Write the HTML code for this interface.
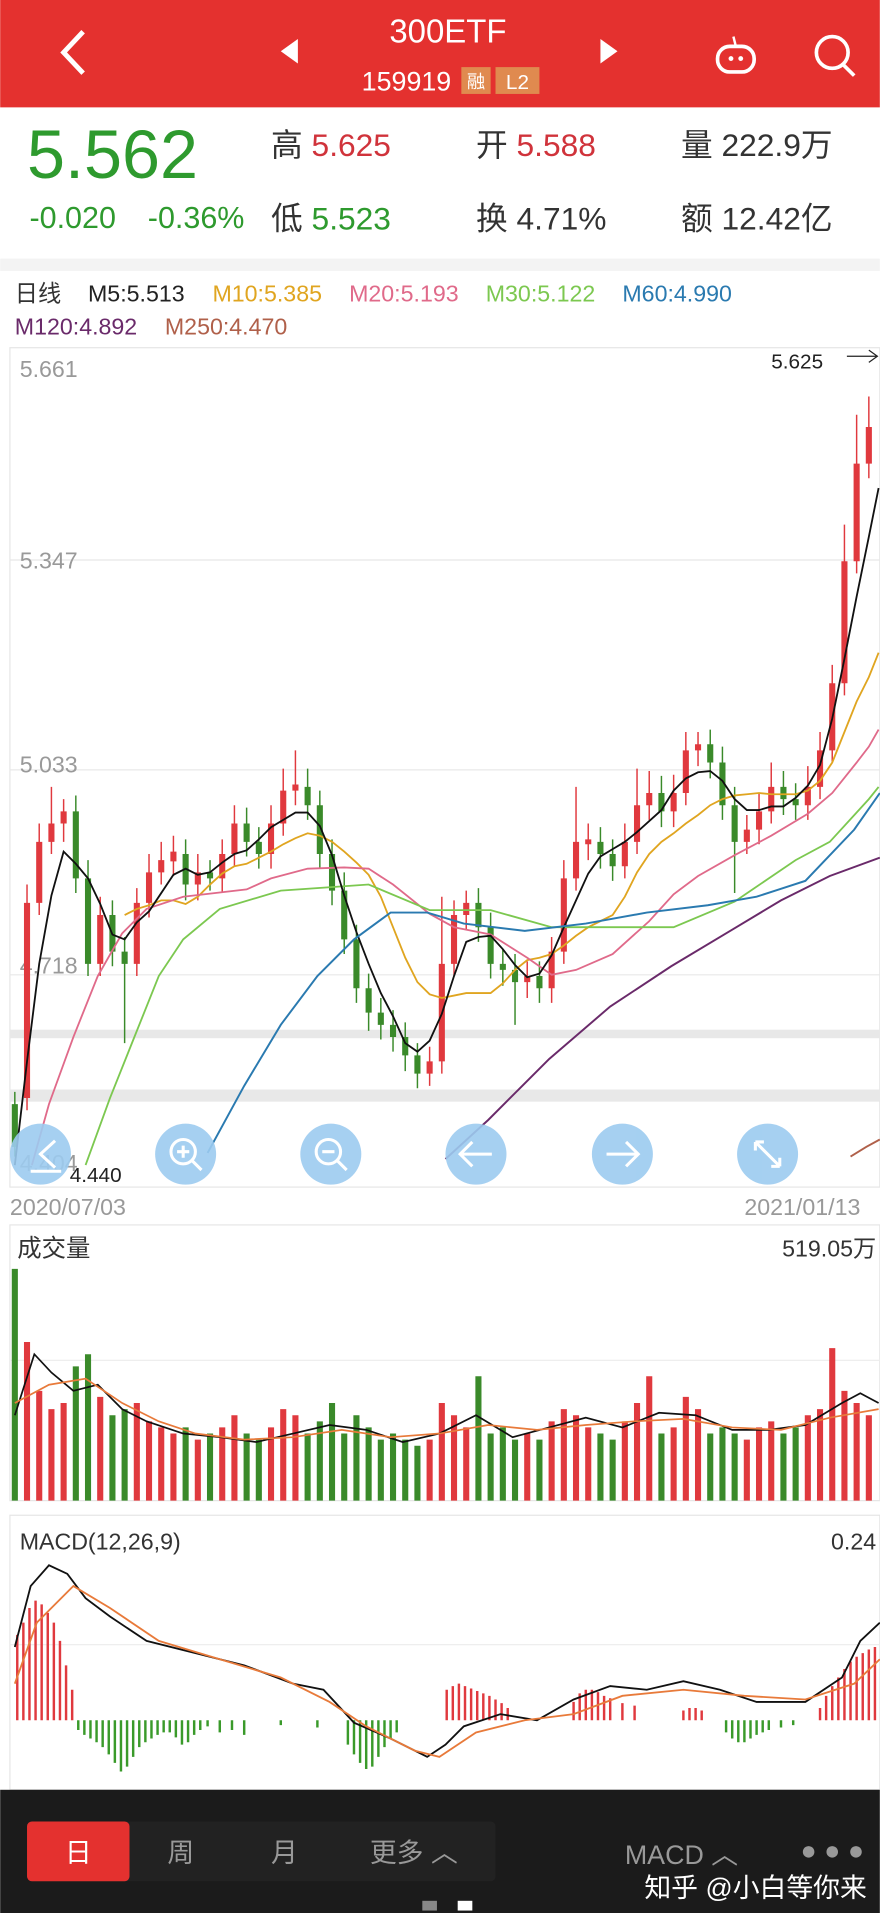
<!DOCTYPE html>
<html><head><meta charset="utf-8"><style>
html,body{margin:0;padding:0;background:#fff}
svg{display:block}
text{font-family:"Liberation Sans","Noto Sans CJK SC",sans-serif}
</style></head><body>
<svg width="880" height="1913" viewBox="0 0 721 1568" xmlns="http://www.w3.org/2000/svg">
<rect x="0" y="0" width="721" height="88" fill="#e4312f"/>
<path d="M68 26 L52 43 L68 60" stroke="#fff" stroke-width="4" fill="none"/>
<path d="M244 32 L230 42 L244 52Z" fill="#fff"/>
<path d="M492 32 L506 42 L492 52Z" fill="#fff"/>
<text x="367" y="35" fill="#fff" font-size="27" text-anchor="middle">300ETF</text>
<text x="333" y="74" fill="#fff" font-size="22" text-anchor="middle">159919</text>
<rect x="378" y="55" width="24" height="22" fill="#e08a4f"/><text x="390" y="72" fill="#fff" font-size="15" text-anchor="middle">融</text>
<rect x="406" y="55" width="36" height="22" fill="#e08a4f"/><text x="424" y="73" fill="#fff" font-size="17" text-anchor="middle">L2</text>
<rect x="588" y="38" width="30" height="21" rx="10" stroke="#fff" stroke-width="3" fill="none"/><circle cx="599" cy="48" r="2" fill="#fff"/><circle cx="607" cy="48" r="2" fill="#fff"/><path d="M603 38 L601 30" stroke="#fff" stroke-width="2"/>
<circle cx="682" cy="43" r="13" stroke="#fff" stroke-width="3" fill="none"/><path d="M691 53 L700 62" stroke="#fff" stroke-width="3"/>
<text x="22" y="146" fill="#2e9a2e" font-size="56">5.562</text>
<text x="24" y="187" fill="#2e9a2e" font-size="25">-0.020</text>
<text x="121" y="187" fill="#2e9a2e" font-size="25">-0.36%</text>
<text x="222" y="128" fill="#333" font-size="26">高 <tspan fill="#d0333b">5.625</tspan></text>
<text x="222" y="188" fill="#333" font-size="26">低 <tspan fill="#2e9a2e">5.523</tspan></text>
<text x="390" y="128" fill="#333" font-size="26">开 <tspan fill="#d0333b">5.588</tspan></text>
<text x="390" y="188" fill="#333" font-size="26">换 4.71%</text>
<text x="558" y="128" fill="#333" font-size="26">量 222.9万</text>
<text x="558" y="188" fill="#333" font-size="26">额 12.42亿</text>
<rect x="0" y="212" width="721" height="10" fill="#f3f3f3"/>
<g font-size="19">
<text x="12" y="247" fill="#333">日线</text><text x="72" y="247" fill="#222">M5:5.513</text>
<text x="174" y="247" fill="#e0a520">M10:5.385</text><text x="286" y="247" fill="#e06a8a">M20:5.193</text>
<text x="398" y="247" fill="#7cc850">M30:5.122</text><text x="510" y="247" fill="#2a7ab0">M60:4.990</text>
<text x="12" y="274" fill="#6a2a6a">M120:4.892</text><text x="135" y="274" fill="#b0604a">M250:4.470</text>
</g>
<rect x="8" y="285" width="713" height="688" fill="none" stroke="#e6e6e6"/>
<g stroke="#e8e8e8"><line x1="8" y1="459" x2="721" y2="459"/><line x1="8" y1="631" x2="721" y2="631"/><line x1="8" y1="799" x2="721" y2="799"/></g>
<rect x="8" y="844" width="713" height="7" fill="#e8e8e8"/><rect x="8" y="893" width="713" height="10" fill="#e8e8e8"/>
<g fill="#999" font-size="19"><text x="16" y="309">5.661</text><text x="16" y="466">5.347</text><text x="16" y="633">5.033</text><text x="16" y="798">4.718</text><text x="16" y="960">4.404</text></g>
<text x="632" y="302" font-size="17" fill="#222">5.625</text><path d="M694 292 L719 292 M712 287 L719 292 L712 297" stroke="#222" fill="none"/>
<text x="57" y="969" font-size="17" fill="#222">4.440</text>

<!-- candles red -->
<g stroke="#e0393e">
<path stroke-width="5" d="M22 740V900 M32 690V740 M42 675V690 M52 665V675 M82 750V790 M112 740V790 M122 715V740 M132 705V715 M142 698V706 M162 715V725 M182 700V720 M192 675V700 M222 675V700 M232 648V675 M242 643V648 M352 870V880 M362 790V870 M372 750V790 M382 740V750 M432 800V805 M452 780V810 M462 720V780 M472 690V720 M482 688V692 M512 690V710 M522 660V690 M532 650V660 M552 650V665 M562 615V650 M572 610V615 M612 680V690 M622 665V680 M632 645V665 M662 645V660 M672 615V645 M682 560V615 M692 460V560 M702 380V460 M712 350V380"/>
<path stroke-width="1.2" d="M22 725V910 M32 675V750 M42 645V700 M52 655V690 M82 735V800 M112 728V800 M122 700V752 M132 690V725 M142 685V718 M162 700V738 M182 688V732 M192 660V710 M222 660V712 M232 630V685 M242 615V660 M352 858V890 M362 735V880 M372 738V800 M382 730V762 M432 788V818 M452 768V822 M462 705V790 M472 645V730 M482 675V705 M512 675V720 M522 630V700 M532 632V672 M552 635V678 M562 600V660 M572 600V628 M612 668V700 M622 650V692 M632 625V675 M662 628V672 M672 600V655 M682 545V625 M692 430V570 M702 340V470 M712 325V392"/>
</g>
<!-- candles green -->
<g stroke="#3a8a2a">
<path stroke-width="5" d="M12 905V940 M62 665V720 M72 720V790 M92 750V780 M102 780V790 M152 700V725 M172 715V720 M202 675V690 M212 690V700 M252 645V660 M262 660V700 M272 700V730 M282 730V770 M292 770V810 M302 810V830 M312 830V840 M322 840V850 M332 850V865 M342 865V880 M392 740V760 M402 760V790 M412 790V795 M422 795V805 M442 800V810 M492 690V700 M502 700V710 M542 650V665 M582 610V625 M592 625V660 M602 660V690 M642 645V655 M652 655V660"/>
<path stroke-width="1.2" d="M12 895V948 M62 652V732 M72 705V800 M92 738V792 M102 768V855 M152 688V738 M172 705V730 M202 662V702 M212 678V712 M252 630V672 M262 648V712 M272 688V742 M282 715V782 M292 758V822 M302 798V845 M312 818V852 M322 828V862 M332 838V878 M342 855V892 M392 728V772 M402 748V802 M412 778V808 M422 782V840 M442 788V822 M492 678V712 M502 688V722 M542 636V678 M582 598V638 M592 612V672 M602 645V732 M642 632V668 M652 642V672"/>
</g>
<!-- MAs -->
<polyline fill="none" stroke="#e0a520" stroke-width="1.5" points="102,750 112,745 122,742 132,738 142,738 152,741 162,735 172,725 182,716 192,710 202,708 212,703 222,698 232,692 242,687 252,683 262,685 272,690 282,698 292,707 302,717 312,735 322,760 332,785 342,805 352,815 362,818 372,816 382,814 392,814 402,814 412,806 422,795 432,787 442,785 452,782 462,775 472,767 482,760 492,755 502,750 512,735 522,715 532,700 542,690 552,683 562,675 572,668 582,660 592,655 602,652 612,651 622,650 632,651 642,651 652,651 662,648 672,640 682,625 692,600 702,575 712,555 720,535"/>
<polyline fill="none" stroke="#e06a8a" stroke-width="1.5" points="26,955 40,905 60,850 80,800 100,765 120,745 150,735 202,729 222,720 252,712 282,711 302,712 322,725 352,749 372,760 402,766 432,785 452,799 472,795 502,782 532,755 552,733 572,718 602,701 632,685 662,667 682,650 702,625 712,612 720,598"/>
<polyline fill="none" stroke="#7cc850" stroke-width="1.5" points="70,955 90,900 110,850 130,800 150,770 180,745 230,730 302,725 352,746 402,746 452,760 502,760 552,760 602,739 652,705 680,690 702,666 712,655 720,645"/>
<polyline fill="none" stroke="#111" stroke-width="1.5" points="12,955 22,870 32,790 42,734 52,698 62,708 72,720 82,741 92,766 102,770 112,756 122,747 132,732 142,717 152,712 162,717 172,715 182,707 192,700 202,697 212,688 222,678 232,672 242,666 252,666 262,677 272,701 282,734 292,764 302,790 312,814 322,833 332,855 342,862 352,853 362,831 372,800 382,772 392,768 402,767 412,778 422,791 432,801 442,798 452,783 462,760 472,738 482,716 492,702 502,696 512,690 522,682 532,673 542,664 552,648 562,638 572,633 582,632 592,640 602,655 612,664 622,664 632,661 642,661 652,654 662,644 672,627 682,589 692,540 702,489 712,440 720,400"/>
<polyline fill="none" stroke="#2a7ab0" stroke-width="1.6" points="170,945 200,890 230,840 260,800 290,770 320,748 350,748 380,757 430,763 480,757 530,748 580,742 620,735 660,722 700,680 721,650"/>
<polyline fill="none" stroke="#6a2a6a" stroke-width="1.6" points="365,950 400,918 450,868 500,825 550,792 600,762 640,738 680,718 721,703"/>
<polyline fill="none" stroke="#b0604a" stroke-width="1.6" points="697,948 710,940 721,934"/>
<g fill="#9ccbf0" opacity="0.9"><circle cx="33" cy="946" r="25"/><circle cx="152" cy="946" r="25"/><circle cx="271" cy="946" r="25"/><circle cx="390" cy="946" r="25"/><circle cx="510" cy="946" r="25"/><circle cx="629" cy="946" r="25"/></g>
<g stroke="#fff" stroke-width="2.5" fill="none"><circle cx="150" cy="944" r="10"/><path d="M157 951 L165 959 M145 944 H155 M150 939 V949"/><circle cx="269" cy="944" r="10"/><path d="M276 951 L284 959 M264 944 H274"/><path d="M403 946 H377 M387 936 L377 946 L387 956"/><path d="M497 946 H523 M513 936 L523 946 L513 956"/><path d="M619 936 L639 956 M619 936 V943 M619 936 H626 M639 956 V949 M639 956 H632"/><path d="M45 935 L33 946 L45 957 M25 960 H50"/></g>
<g fill="#999" font-size="19"><text x="8" y="996">2020/07/03</text><text x="610" y="996">2021/01/13</text></g>

<rect x="8" y="1004" width="713" height="226" fill="none" stroke="#e6e6e6"/>
<line x1="8" y1="1115" x2="721" y2="1115" stroke="#eee"/>
<text x="14" y="1030" font-size="20" fill="#333">成交量</text><text x="718" y="1030" font-size="19" fill="#333" text-anchor="end">519.05万</text>
<g stroke-width="5">
<path stroke="#e0393e" d="M22 1100V1230 M32 1140V1230 M42 1155V1230 M52 1150V1230 M82 1145V1230 M112 1150V1230 M122 1165V1230 M132 1170V1230 M142 1175V1230 M162 1180V1230 M182 1170V1230 M192 1160V1230 M222 1170V1230 M232 1155V1230 M242 1160V1230 M352 1180V1230 M362 1150V1230 M372 1160V1230 M382 1170V1230 M432 1175V1230 M452 1165V1230 M462 1155V1230 M472 1160V1230 M482 1170V1230 M512 1165V1230 M522 1150V1230 M532 1128V1230 M552 1170V1230 M562 1145V1230 M572 1155V1230 M612 1180V1230 M622 1170V1230 M632 1165V1230 M662 1160V1230 M672 1155V1230 M682 1105V1230 M692 1140V1230 M702 1150V1230 M712 1160V1230"/>
<path stroke="#3a8a2a" d="M12 1040V1230 M62 1120V1230 M72 1110V1230 M92 1160V1230 M102 1155V1230 M152 1170V1230 M172 1175V1230 M202 1175V1230 M212 1180V1230 M252 1175V1230 M262 1165V1230 M272 1150V1230 M282 1175V1230 M292 1160V1230 M302 1170V1230 M312 1180V1230 M322 1175V1230 M332 1180V1230 M342 1185V1230 M392 1128V1230 M402 1175V1230 M412 1170V1230 M422 1180V1230 M442 1180V1230 M492 1175V1230 M502 1180V1230 M542 1175V1230 M582 1175V1230 M592 1170V1230 M602 1175V1230 M642 1175V1230 M652 1170V1230"/>
</g>
<polyline fill="none" stroke="#111" stroke-width="1.4" points="12,1160 28,1110 42,1125 60,1140 80,1135 100,1155 120,1165 150,1175 180,1178 210,1182 240,1175 270,1168 300,1172 330,1182 360,1175 390,1160 420,1178 450,1170 480,1162 510,1170 540,1158 570,1160 600,1172 630,1172 660,1168 690,1150 705,1142 720,1150"/>
<polyline fill="none" stroke="#e87a3a" stroke-width="1.4" points="12,1150 40,1135 70,1130 100,1150 130,1165 160,1175 200,1180 240,1178 280,1172 320,1178 360,1175 400,1168 440,1172 480,1168 520,1165 560,1163 600,1170 640,1172 680,1162 720,1155"/>

<rect x="8" y="1242" width="713" height="225" fill="none" stroke="#e6e6e6"/>
<line x1="8" y1="1348" x2="721" y2="1348" stroke="#eee"/>
<text x="16" y="1270" font-size="19" fill="#333">MACD(12,26,9)</text><text x="718" y="1270" font-size="19" fill="#333" text-anchor="end">0.24</text>
<g stroke-width="2">
<path stroke="#e0393e" d="M14 1410V1340 M19 1410V1330 M24 1410V1318 M29 1410V1312 M34 1410V1315 M39 1410V1322 M44 1410V1330 M49 1410V1345 M54 1410V1365 M59 1410V1385 M366 1410V1385 M371 1410V1382 M376 1410V1380 M381 1410V1382 M386 1410V1384 M391 1410V1386 M396 1410V1388 M401 1410V1390 M406 1410V1393 M411 1410V1396 M416 1410V1400 M470 1410V1395 M475 1410V1388 M480 1410V1385 M485 1410V1385 M490 1410V1387 M495 1410V1390 M500 1410V1392 M510 1410V1396 M520 1410V1398 M560 1410V1402 M565 1410V1400 M570 1410V1400 M575 1410V1402 M672 1410V1400 M677 1410V1390 M682 1410V1382 M687 1410V1375 M692 1410V1368 M697 1410V1362 M702 1410V1358 M707 1410V1355 M712 1410V1352 M717 1410V1350"/>
<path stroke="#3a9a2a" d="M64 1410V1418 M69 1410V1422 M74 1410V1425 M79 1410V1428 M84 1410V1432 M89 1410V1438 M94 1410V1445 M99 1410V1452 M104 1410V1448 M109 1410V1440 M114 1410V1432 M119 1410V1428 M124 1410V1425 M129 1410V1422 M134 1410V1420 M139 1410V1420 M144 1410V1424 M149 1410V1430 M154 1410V1428 M159 1410V1422 M164 1410V1418 M170 1410V1415 M180 1410V1420 M190 1410V1418 M200 1410V1422 M230 1410V1414 M260 1410V1416 M285 1410V1430 M290 1410V1438 M295 1410V1445 M300 1410V1450 M305 1410V1448 M310 1410V1440 M315 1410V1432 M320 1410V1425 M325 1410V1420 M595 1410V1420 M600 1410V1425 M605 1410V1428 M610 1410V1428 M615 1410V1425 M620 1410V1422 M625 1410V1420 M630 1410V1418 M640 1410V1416 M650 1410V1414"/>
</g>
<polyline fill="none" stroke="#111" stroke-width="1.5" points="12,1350 25,1300 40,1283 55,1290 70,1310 90,1325 120,1345 160,1355 200,1365 240,1380 265,1385 290,1412 320,1425 350,1440 365,1430 380,1415 410,1405 440,1410 470,1393 500,1382 530,1385 560,1378 590,1385 620,1395 660,1395 690,1375 705,1345 721,1330"/>
<polyline fill="none" stroke="#e87a3a" stroke-width="1.5" points="12,1380 30,1330 60,1300 90,1318 130,1345 180,1360 230,1375 270,1395 300,1415 340,1435 360,1440 390,1420 430,1410 470,1405 510,1390 560,1385 610,1390 660,1393 700,1380 721,1360"/>

<rect x="0" y="1467" width="721" height="101" fill="#1b1b1b"/>
<rect x="22" y="1493" width="384" height="49" rx="4" fill="#222"/>
<rect x="22" y="1493" width="84" height="49" rx="4" fill="#e4312f"/>
<g font-size="22" fill="#999"><text x="64" y="1526" fill="#fff" text-anchor="middle">日</text><text x="148" y="1526" text-anchor="middle">周</text><text x="233" y="1526" text-anchor="middle">月</text><text x="303" y="1526">更多 ︿</text><text x="512" y="1528">MACD ︿</text><text x="656" y="1524">● ● ●</text></g>
<text x="528" y="1555" font-size="22" fill="#fff">知乎 @小白等你来</text>
<rect x="346" y="1558" width="12" height="8" fill="#888"/><rect x="375" y="1558" width="12" height="8" fill="#fff"/>
</svg>
</body></html>
